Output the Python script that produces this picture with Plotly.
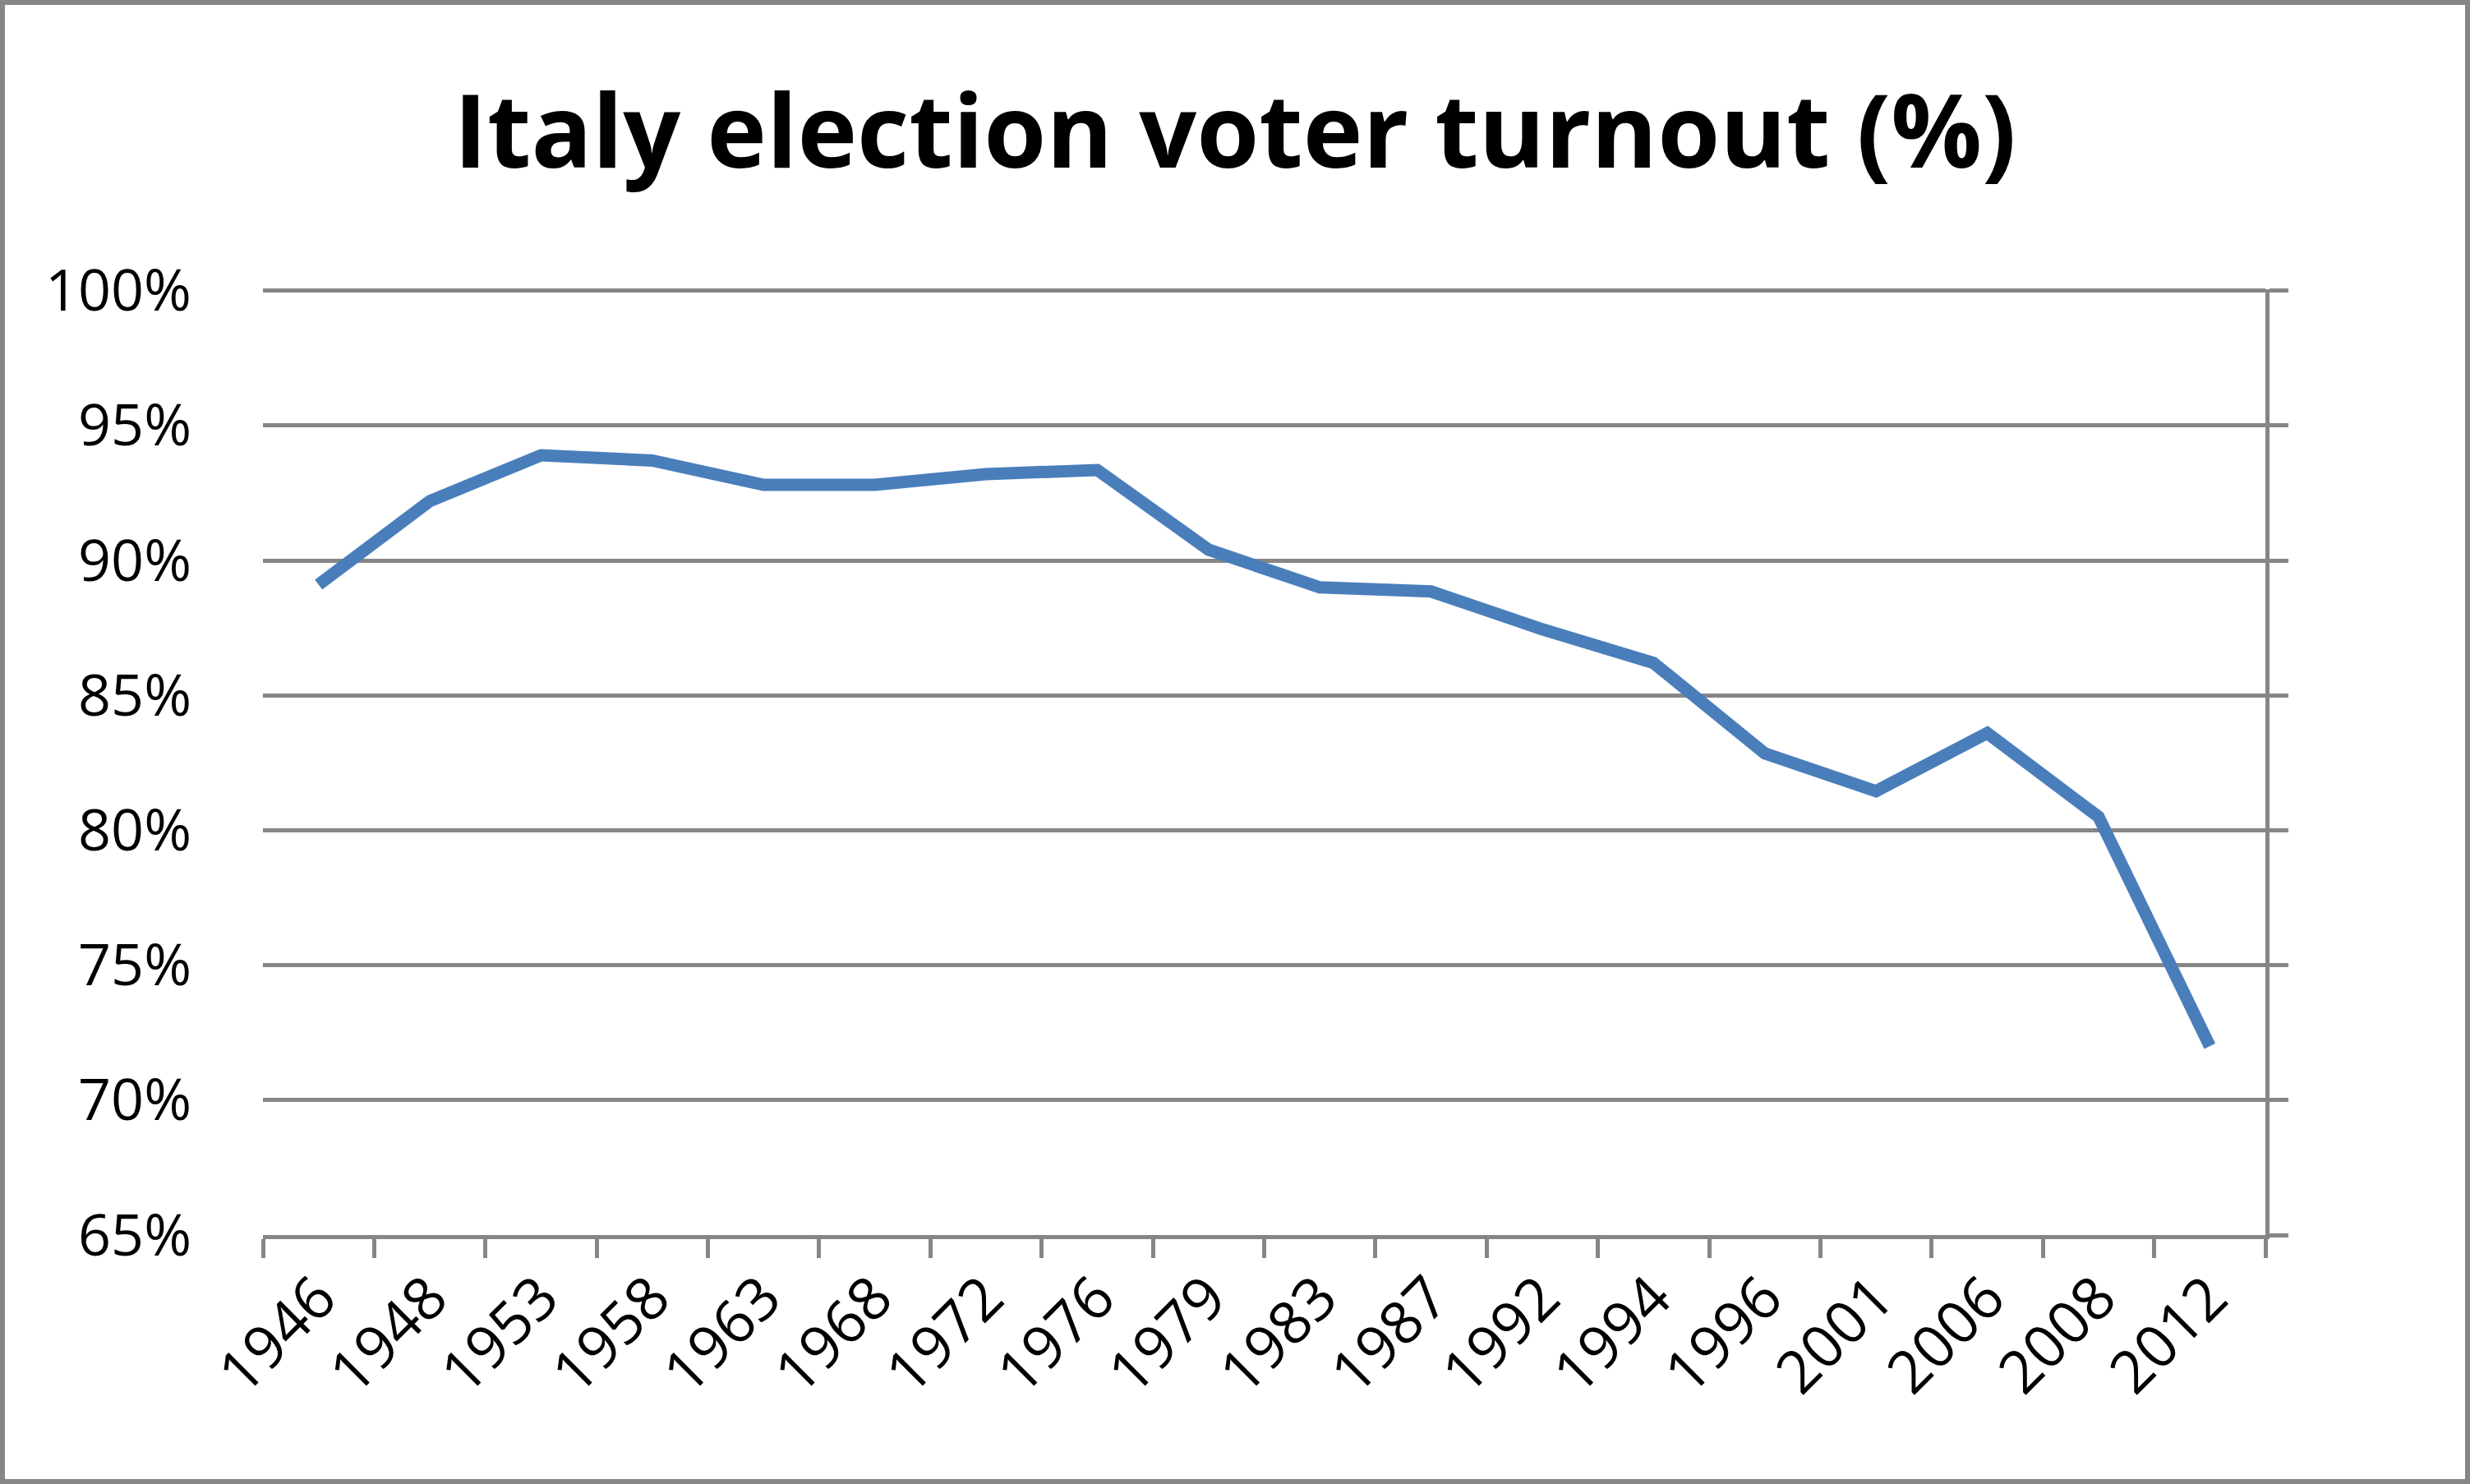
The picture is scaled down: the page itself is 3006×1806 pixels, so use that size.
import plotly.graph_objects as go

years = ["1946", "1948", "1953", "1958", "1963", "1968", "1972", "1976", "1979",
         "1983", "1987", "1992", "1994", "1996", "2001", "2006", "2008", "2012"]
turnout = [89.1, 92.2, 93.9, 93.7, 92.8, 92.8, 93.2, 93.35, 90.4,
           89.0, 88.85, 87.45, 86.2, 82.85, 81.45, 83.6, 80.5, 72.0]
y_ticks = [65, 70, 75, 80, 85, 90, 95, 100]
y_tick_labels = [f"{v}%" for v in y_ticks]
title_text = "Italy election voter turnout (%)"

W, H = 3006, 1806
ML, MR, MT, MB = 320, 249, 352, 303
GRAY = "#868686"
BLUE = "#4A7EBB"
FONT = "Open Sans"
Y_RANGE = [65, 100.05]

fig = go.Figure()
fig.add_trace(go.Scatter(x=years, y=turnout, mode="lines",
                         line=dict(color=BLUE, width=15),
                         showlegend=False, yaxis="y"))
# invisible companion trace to realise the right-hand tick axis
fig.add_trace(go.Scatter(x=years, y=turnout, mode="lines",
                         line=dict(color="rgba(0,0,0,0)", width=0),
                         hoverinfo="skip", showlegend=False, yaxis="y2"))

pw = W - ML - MR
ph = H - MT - MB
bw = 6
fig.add_shape(type="rect", xref="paper", yref="paper",
              x0=(-ML + bw / 2) / pw, x1=(W - ML - bw / 2) / pw,
              y0=(-MB + bw / 2) / ph, y1=(H - MB - bw / 2) / ph,
              line=dict(color=GRAY, width=bw), layer="below")

fig.update_layout(
    width=W, height=H,
    margin=dict(l=ML, r=MR, t=MT, b=MB, pad=0),
    paper_bgcolor="white", plot_bgcolor="white",
    font=dict(family=FONT, color="black", size=71),
    title=dict(text=f"<b>{title_text}</b>", x=0.5, xanchor="center",
               xref="container", yref="container", y=1 - 161 / H, yanchor="middle",
               font=dict(family=FONT, size=123, color="black")),
    xaxis=dict(type="category", range=[-0.5, len(years) - 0.5],
               tickson="boundaries", ticks="outside", ticklen=23, tickwidth=5,
               tickcolor=GRAY, showline=True, linecolor=GRAY, linewidth=5,
               showgrid=False, zeroline=False, tickangle=-45,
               tickfont=dict(family=FONT, size=72, color="black")),
    yaxis=dict(range=Y_RANGE, tickvals=y_ticks, ticktext=y_tick_labels,
               showgrid=True, gridcolor=GRAY, gridwidth=5, zeroline=False,
               showline=False, ticks="outside", ticklen=72,
               tickcolor="rgba(0,0,0,0)",
               tickfont=dict(family=FONT, size=70, color="black")),
    yaxis2=dict(range=Y_RANGE, tickvals=y_ticks, overlaying="y", side="right",
                anchor="x", showgrid=False, zeroline=False, showticklabels=False,
                ticks="outside", ticklen=23, tickwidth=5, tickcolor=GRAY,
                showline=True, linecolor=GRAY, linewidth=5),
)

fig.write_html("out.html")
